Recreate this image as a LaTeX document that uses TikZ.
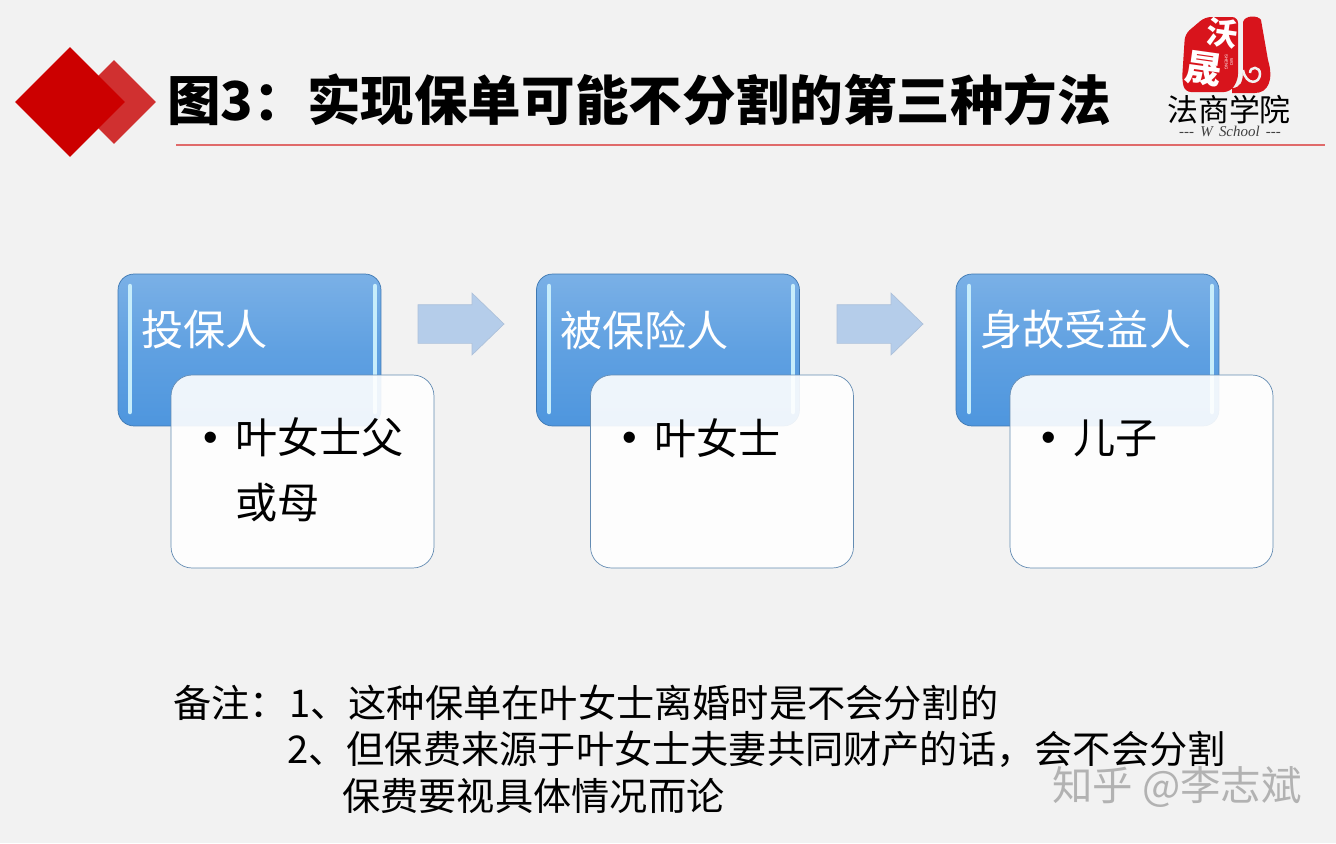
\documentclass[tikz,border=0pt]{standalone}
\usepackage{fontspec}
\setmainfont{Noto Sans CJK SC}
\newfontfamily\latinserif{Liberation Serif}
\newfontfamily\latinsans{Liberation Sans}
\usetikzlibrary{shapes.geometric, shapes.arrows}
\definecolor{pagegray}{HTML}{F2F2F2}
\definecolor{logored}{HTML}{D8141C}
\definecolor{headblue}{HTML}{4E96DE}
\definecolor{flowblue}{HTML}{B5CDEA}
\definecolor{darkred}{HTML}{CC0000}
\definecolor{softred}{HTML}{D03030}
\definecolor{rulered}{HTML}{E06A6A}
\newcommand{\widecolon}{\char"FF1A\relax}
\newcommand{\widecomma}{\char"FF0C\relax}
\tikzset{headbox/.style = {shape = rectangle, rounded corners = 0.32cm, draw = headblue!80!black, top color = headblue!75!white, bottom color = headblue, middle color = headblue!90!white, minimum width = 5.26cm, minimum height = 3.04cm, inner sep = 0pt}}
\tikzset{bodybox/.style = {shape = rectangle, rounded corners = 0.42cm, draw = headblue!55!gray, fill = white, fill opacity = 0.9, minimum width = 5.26cm, minimum height = 3.86cm, inner sep = 0pt}}
\tikzset{headtext/.style = {anchor = west, inner sep = 0pt, text = white, font = \fontsize{24}{28}\selectfont}}
\tikzset{bodytext/.style = {anchor = west, inner sep = 0pt, align = left, font = \fontsize{24}{37.4}\selectfont}}
\tikzset{bullet/.style = {anchor = center, inner sep = 0pt, font = \latinsans\fontsize{23.6}{28}\selectfont}}
\tikzset{notetext/.style = {anchor = west, inner sep = 0pt, font = \fontsize{21.75}{26}\selectfont}}
\tikzset{flowarrow/.style = {shape = single arrow, draw = flowblue!85!gray, fill = flowblue, minimum height = 1.72cm, single arrow head extend = 0.23cm, single arrow tip angle = 88, single arrow head indent = 0pt, inner xsep = 0pt, inner ysep = 0.38cm}}
\tikzset{glint/.style = {line width = 0.09cm, line cap = round, draw = cyan!22!white}}

\begin{document}
\begin{tikzpicture}[x = 0.02cm, y = -0.02cm]
			\useasboundingbox[fill = pagegray] (0, 0) rectangle (1336, 843);

			% title bar
			\node[shape = diamond, fill = softred, minimum width = 1.68cm, minimum height = 1.68cm, inner sep = 0pt] (back) at (114, 102) {};
			\node[shape = diamond, fill = darkred, minimum width = 2.2cm, minimum height = 2.2cm, inner sep = 0pt] (front) at (70, 102) {};
			\node[anchor = west, inner sep = 0pt, font = \bfseries\fontsize{30.5}{36}\selectfont] (title) at (167, 100) {图3\widecolon 实现保单可能不分割的第三种方法};
			\coordinate (rulea) at (176, 145);
			\coordinate (ruleb) at (1325, 145);
			\draw[draw = rulered, line width = 0.7pt] (rulea) -- (ruleb);

			% logo
			\fill[logored, rounded corners = 0.12cm] (1205, 17) -- (1238, 17) -- (1238, 80) -- (1230, 92) -- (1185, 92) -- (1182, 80) -- (1185, 34) -- cycle;
			\fill[logored] (1243, 22) .. controls (1245, 15) and (1258, 15) .. (1261, 20) -- (1268, 60) .. controls (1274, 80) and (1268, 93) .. (1255, 93) -- (1232, 93) -- (1232, 88) .. controls (1240, 88) and (1243, 82) .. (1243, 72) -- cycle;
			\draw[pagegray, line width = 0.05cm] (1243, 70) .. controls (1246, 86) and (1260, 84) .. (1260, 74) .. controls (1260, 66) and (1250, 66) .. (1250, 73);
			\node[inner sep = 0pt, text = white, rotate = -8, font = \bfseries\fontsize{17.5}{18}\selectfont] (wo) at (1222, 33) {沃};
			\node[inner sep = 0pt, text = white, rotate = -8, font = \bfseries\fontsize{21}{24}\selectfont] (sheng) at (1204, 69) {晟};
			\node[inner sep = 0pt, text = white, rotate = -90, align = center, font = \latinsans\fontsize{2.4}{3}\selectfont] (pinyin) at (1229, 62) {WO\\SHENG};
			\node[inner sep = 0pt, font = \fontsize{17.6}{20}\selectfont] (school) at (1229, 110) {法商学院};
			\node[inner sep = 0pt, text = black!75, font = \latinserif\itshape\fontsize{8.5}{10}\selectfont] (wschool) at (1230, 131) {--- \,W\, School\, ---};

			% first column
			\node[headbox] (heada) at (249.5, 350) {};
			\draw[glint] (130, 286) -- (130, 412);
			\draw[glint] (375, 286) -- (375, 412);
			\node[headtext] (labela) at (141, 330) {投保人};
			\node[bodybox] (bodya) at (302.5, 471.5) {};
			\node[bullet] (dota) at (211, 442) {•};
			\node[bodytext, anchor = north west] (texta) at (235, 417) {叶女士父\\或母};

			% second column
			\node[headbox] (headb) at (668, 350) {};
			\draw[glint] (549, 286) -- (549, 412);
			\draw[glint] (793, 286) -- (793, 412);
			\node[headtext] (labelb) at (560, 330) {被保险人};
			\node[bodybox] (bodyb) at (722, 471.5) {};
			\node[bullet] (dotb) at (630, 442) {•};
			\node[bodytext] (textb) at (654, 438) {叶女士};

			% third column
			\node[headbox] (headc) at (1087.5, 350) {};
			\draw[glint] (969, 286) -- (969, 412);
			\draw[glint] (1212, 286) -- (1212, 412);
			\node[headtext] (labelc) at (980, 330) {身故受益人};
			\node[bodybox] (bodyc) at (1141.5, 471.5) {};
			\node[bullet] (dotc) at (1049, 442) {•};
			\node[bodytext] (textc) at (1073, 438) {儿子};

			% arrows between columns
			\node[flowarrow] (flowa) at (451, 324) {};
			\node[flowarrow] (flowb) at (870, 324) {};

			% notes
			\node[notetext] (notehead) at (173, 703) {备注\widecolon};
			\node[notetext] (notea) at (289, 703) {1、这种保单在叶女士离婚时是不会分割的};
			\node[notetext] (noteb) at (287, 749) {2、但保费来源于叶女士夫妻共同财产的话\widecomma 会不会分割};
			\node[notetext] (notec) at (342, 796) {保费要视具体情况而论};

			% watermark
			\node[anchor = west, inner sep = 0pt, text = black!30, font = \fontsize{23}{26}\selectfont] (mark) at (1052, 787) {知乎 @李志斌};
		\end{tikzpicture}
\end{document}
